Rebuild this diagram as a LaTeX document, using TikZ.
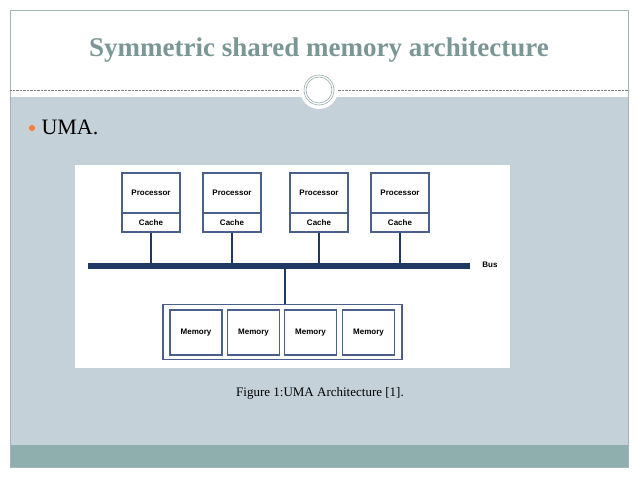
\documentclass[tikz,border=0pt]{standalone}
\usepackage{fontspec}
\setmainfont{Liberation Serif}
\newfontfamily\diagfont{Liberation Sans}
\usetikzlibrary{positioning}
\definecolor{slidegray}{HTML}{C5D1D8}
\definecolor{slideteal}{HTML}{8EAFAE}
\definecolor{titlecol}{HTML}{7A9795}
\definecolor{busblue}{HTML}{1F3864}
\definecolor{boxblue}{HTML}{4A5F8C}

\begin{document}
\begin{tikzpicture} [x=1pt, y=-1pt,
            unit/.style = {draw=boxblue, line width=1.4pt, fill=white,
                inner sep=0pt, font=\diagfont\bfseries\fontsize{8}{9}\selectfont},
            proc/.style = {unit, minimum width=58pt, minimum height=40pt},
            cache/.style = {unit, minimum width=58pt, minimum height=19pt},
            mem/.style = {unit, minimum width=52pt, minimum height=45pt},
            link/.style = {draw=busblue, line width=2.4pt}]
            \useasboundingbox (0,0) rectangle (638,479);

            % Slide background
            \fill[white] (0,0) rectangle (638,479);
            \fill[slidegray] (10,97) rectangle (628,445);
            \fill[slideteal] (10,445) rectangle (628,467);
            \draw[titlecol!70, line width=0.6pt] (10,10) rectangle (628,467);
            \draw[gray, densely dotted] (10,90) -- (628,90);
            \fill[white] (319,90) circle (19);
            \draw[titlecol!80, line width=0.6pt] (319,90) circle (15) (319,90) circle (13);

            % Title and bullet
            \node (title) [text=titlecol, font=\bfseries\fontsize{27}{31}\selectfont]
                at (319,50) {Symmetric shared memory architecture};
            \fill[orange!70!red!80] (32,128) circle (3);
            \node (uma) [anchor=west, font=\fontsize{22}{26}\selectfont] at (38,127) {UMA.};

            % Figure
            \fill[white] (75,165) rectangle (510,368);
            \foreach \x [count=\i] in {151, 232, 319, 400} {
                \node (p\i) [proc] at (\x,193) {Processor};
                \node (c\i) [cache, below=-1.4pt of p\i] {Cache};
            }
            \fill[busblue] (88,263) rectangle (470,269);
            \coordinate (bus) at (285,266);
            \node (bl) [font=\diagfont\bfseries\fontsize{8}{9}\selectfont] at (490,265) {Bus};
            \node (memall) [unit, minimum width=239pt, minimum height=55pt] at (282.5,332) {};
            \foreach \x [count=\i] in {196, 253.5, 310.5, 368.5}
                \node (m\i) [mem] at (\x,332.5) {Memory};

            % Links
            \foreach \i in {1,...,4}
                \draw[link] (c\i.south) -- (c\i.south |- bus);
            \draw[link] (bus) -- (bus |- memall.north);

            \node (caption) [font=\fontsize{13}{15}\selectfont] at (320,393)
                {Figure 1:UMA Architecture [1].};
        \end{tikzpicture}
\end{document}
